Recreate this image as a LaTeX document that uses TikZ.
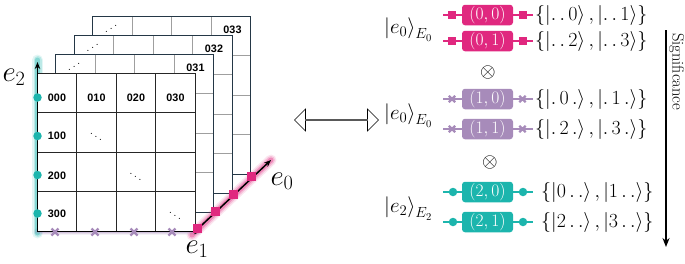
\RequirePackage{fix-cm}
\documentclass[tikz,border=0pt]{standalone}
\usepackage{fontspec}
\usepackage{graphicx}
\newfontfamily\gridfont{Liberation Sans}
\usetikzlibrary{arrows.meta,shapes.arrows,calc}
\definecolor{mag}{HTML}{E0287F}
\definecolor{pur}{HTML}{A78BBA}
\definecolor{tea}{HTML}{1CB5AD}
\definecolor{navy}{HTML}{243746}
\newcommand{\gridsz}{\fontsize{10.8}{12}\gridfont\bfseries}
\newcommand{\esz}{\fontsize{29}{32}\selectfont}
\newcommand{\bsz}{\fontsize{17.5}{20}\selectfont}
\newcommand{\rsz}{\fontsize{20}{23}\selectfont}
\newcommand{\ksz}{\fontsize{21}{24}\selectfont}
\begin{document}
\begin{tikzpicture}[x=1pt,y=-1pt,
  cell/.style={font=\gridsz, inner sep=0pt},
  qbox/.style={rounded corners=3pt, minimum width=51pt, minimum height=20.5pt, inner sep=0pt, text=white, font=\bsz},
  stub/.style={line width=2pt},
  sqmark/.style={fill=mag, minimum size=8pt, inner sep=0pt},
  cmark/.style={circle, fill=tea, minimum size=8.5pt, inner sep=0pt},
  xmark/.style={inner sep=0pt, minimum size=0pt},
  axis/.style={line width=1.5pt, -{Stealth[length=7pt,width=5.5pt]}},
  settext/.style={anchor=west, inner sep=0pt, font=\rsz},
  ket/.style={anchor=base west, inner sep=0pt, font=\ksz},
]
\useasboundingbox (0,0) rectangle (685,263);

% back sheets
\foreach \k in {3,2,1}{
  \begin{scope}[shift={(18.5*\k,-19*\k)}]
    \fill[white] (37,73) rectangle (195,231);
    \foreach \i in {1,2,3}{
      \draw[gray!75, line width=0.8pt] (37+39.5*\i,73) -- (37+39.5*\i,231);
      \draw[gray!75, line width=0.8pt] (37,73+39.5*\i) -- (195,73+39.5*\i);
    }
    \draw[navy, line width=0.9pt] (37,73) rectangle (195,231);
    \node[cell] (lab03\k) at (177,86.5) {03\k};
    \node[inner sep=0pt, font=\fontsize{12}{13}\selectfont] (dd\k) at (55.7,83) {\scalebox{-1}[1]{$\ddots$}};
  \end{scope}
}

% glows
\foreach \w/\o in {11/0.12,8/0.2,5/0.35}{
  \draw[tea, line width=\w pt, opacity=\o, line cap=round] (37.5,60) -- (37.5,233);
  \draw[mag, line width=\w pt, opacity=\o, line cap=round] (192,235) -- (271,160);
  \draw[pur, line width=\w pt*0.7, opacity=\o, line cap=round] (37.5,231.5) -- (198,231.5);
}

% front sheet
\fill[white] (37,73) rectangle (195,231);
\foreach \i in {1,2,3}{
  \draw[black!85, line width=0.9pt] (37+39.5*\i,73) -- (37+39.5*\i,231);
  \draw[black!85, line width=0.9pt] (37,73+39.5*\i) -- (195,73+39.5*\i);
}
\draw[black!85, line width=0.9pt] (37,73) rectangle (195,231);

\node[cell] (c000) at (57,97.5) {000};
\node[cell] (c010) at (96.5,97.5) {010};
\node[cell] (c020) at (136,97.5) {020};
\node[cell] (c030) at (175.5,97.5) {030};
\node[cell] (c100) at (57,136) {100};
\node[cell] (c200) at (57,175.5) {200};
\node[cell] (c300) at (57,214) {300};
\node[inner sep=0pt, font=\fontsize{12}{13}\selectfont] (fd1) at (96,134) {$\ddots$};
\node[inner sep=0pt, font=\fontsize{12}{13}\selectfont] (fd2) at (135.5,173.5) {$\ddots$};
\node[inner sep=0pt, font=\fontsize{12}{13}\selectfont] (fd3) at (175,213) {$\ddots$};

% axes
\coordinate (O) at (37.5,231.5);
\coordinate (E2) at (37.5,62);
\coordinate (E1) at (201,231.5);
\coordinate (O0) at (195,231.5);
\coordinate (E0) at (271,160);
\draw[axis] (O) -- (E2);
\draw[axis] (O) -- (E1);
\draw[axis] (O0) -- (E0);

\foreach \y [count=\n] in {97.5,136,175,213.5}{
  \node[cmark] (ad\n) at (37.5,\y) {};
}
\foreach \x [count=\n] in {55,95,134,172}{
  \node[xmark] (ax\n) at (\x,232) {};
  \draw[pur, line width=2.4pt] ($(ax\n)+(-3.5,-3.5)$) -- ($(ax\n)+(3.5,3.5)$) ($(ax\n)+(-3.5,3.5)$) -- ($(ax\n)+(3.5,-3.5)$);
}
\foreach \x/\y [count=\n] in {197/228,215/211,233/194,251.5/176.5}{
  \node[sqmark, minimum size=9pt] (as\n) at (\x,\y) {};
}

\node[font=\esz, inner sep=0pt] (le2) at (14,77) {$e_2$};
\node[font=\esz, inner sep=0pt] (le1) at (197,249) {$e_1$};
\node[font=\esz, inner sep=0pt] (le0) at (282,181) {$e_0$};

% double arrow
\node[double arrow, draw=black, line width=0.6pt, fill=white, minimum height=84pt, minimum width=22pt, double arrow head extend=5pt, inner sep=0pt] (dbl) at (336.5,120) {};

% right side labels
\node[ket] (k0) at (384,33) {$\left|e_0\right\rangle_{E_0}$};
\node[ket] (k1) at (384,119) {$\left|e_0\right\rangle_{E_0}$};
\node[ket] (k2) at (384,212) {$\left|e_2\right\rangle_{E_2}$};

% group 0 (magenta)
\foreach \y/\a/\b/\c [count=\n] in {15/0/0/1, 41/1/2/3}{
  \node[qbox, fill=mag] (m\n) at (487.5,\y) {$(0,\a)$};
  \coordinate (ml\n) at (443,\y);
  \coordinate (mr\n) at (533,\y);
  \draw[mag, stub] (ml\n) -- (m\n.west);
  \draw[mag, stub] (m\n.east) -- (mr\n);
  \node[sqmark] (mls\n) at (452,\y) {};
  \node[sqmark] (mrs\n) at (522.5,\y) {};
  \node[settext] (ms\n) at (535,\y) {$\{\left|.\,.\,\b\right\rangle, \left|.\,.\,\c\right\rangle\}$};
}
\node[font=\rsz, inner sep=0pt] (ot1) at (488,72) {$\otimes$};

% group 1 (purple)
\foreach \y/\a/\b/\c [count=\n] in {99/0/0/1, 129/1/2/3}{
  \node[qbox, fill=pur] (p\n) at (487.5,\y) {$(1,\a)$};
  \coordinate (pl\n) at (443,\y);
  \coordinate (pr\n) at (533,\y);
  \draw[pur, stub] (pl\n) -- (p\n.west);
  \draw[pur, stub] (p\n.east) -- (pr\n);
  \foreach \xx in {452,522.5}{
    \draw[pur, line width=2.2pt] (\xx-3.2,\y-3.2) -- (\xx+3.2,\y+3.2) (\xx-3.2,\y+3.2) -- (\xx+3.2,\y-3.2);
  }
  \node[settext] (ps\n) at (535,\y) {$\{\left|.\,\b\,.\right\rangle, \left|.\,\c\,.\right\rangle\}$};
}
\node[font=\rsz, inner sep=0pt] (ot2) at (490,162) {$\otimes$};

% group 2 (teal)
\foreach \y/\a/\b/\c [count=\n] in {192/0/0/1, 222/1/2/3}{
  \node[qbox, fill=tea] (t\n) at (487.5,\y) {$(2,\a)$};
  \coordinate (tl\n) at (443,\y);
  \coordinate (tr\n) at (533,\y);
  \draw[tea, stub] (tl\n) -- (t\n.west);
  \draw[tea, stub] (t\n.east) -- (tr\n);
  \node[cmark] (tlc\n) at (453,\y) {};
  \node[cmark] (trc\n) at (523,\y) {};
  \node[settext] (ts\n) at (541,\y) {$\{\left|\b\,.\,.\right\rangle, \left|\c\,.\,.\right\rangle\}$};
}

% significance
\coordinate (sigtop) at (666,30);
\coordinate (sigbot) at (666,247);
\draw[line width=2.2pt, -{Stealth[length=9pt,width=7pt]}] (sigtop) -- (sigbot);
\node[rotate=-90, anchor=base west, inner sep=0pt, font=\fontsize{16.5}{18}\selectfont] (sig) at (672.5,33) {Significance};
\end{tikzpicture}
\end{document}
